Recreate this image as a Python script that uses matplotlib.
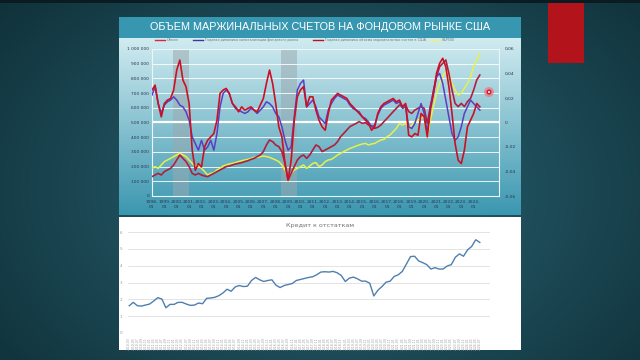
import numpy as np
import matplotlib
matplotlib.use('Agg')
import matplotlib.pyplot as plt
from matplotlib.patches import Rectangle, Circle

W, H = 640, 360

# ---------------- data: top chart (quarterly from 1998) ----------------
years = 1998 + np.arange(107) * 0.25

margin_level = np.array([
    132, 143, 154, 143, 166, 177, 188, 211, 245, 279, 256, 234, 200, 154, 143, 154,
    143, 136, 132, 143, 154, 166, 177, 188, 200, 204, 211, 218, 222, 227, 234, 240,
    249, 256, 268, 279, 302, 347, 381, 370, 347, 336, 302, 222, 109, 154, 200, 245,
    268, 279, 256, 279, 313, 347, 336, 302, 313, 324, 336, 347, 370, 404, 426, 449,
    472, 483, 494, 506, 494, 499, 483, 476, 460, 467, 483, 506, 528, 551, 574, 596,
    619, 608, 619, 574, 562, 585, 596, 608, 596, 494, 608, 698, 812, 880, 902, 925,
    834, 721, 630, 608, 630, 608, 642, 664, 721, 789, 823]) * 1000

cap_yoy = np.array([
    0.0224, 0.0292, 0.0155, 0.0074, 0.0142, 0.0169, 0.0183, 0.0210, 0.0183, 0.0142,
    0.0128, 0.0087, 0.0019, -0.0117, -0.0172, -0.0226, -0.0145, -0.0226, -0.0199, -0.0145,
    -0.0226, -0.0090, 0.0128, 0.0237, 0.0265, 0.0237, 0.0155, 0.0115, 0.0101, 0.0087,
    0.0074, 0.0087, 0.0115, 0.0101, 0.0074, 0.0101, 0.0128, 0.0169, 0.0155, 0.0128,
    0.0074, 0.0046, -0.0035, -0.0145, -0.0226, -0.0199, 0.0046, 0.0265, 0.0319, 0.0346,
    0.0128, 0.0155, 0.0183, 0.0128, 0.0046, 0.0019, -0.0008, 0.0101, 0.0155, 0.0196,
    0.0224, 0.0210, 0.0196, 0.0183, 0.0142, 0.0115, 0.0101, 0.0087, 0.0046, 0.0033,
    0.0005, -0.0035, -0.0022, 0.0060, 0.0115, 0.0142, 0.0155, 0.0169, 0.0183, 0.0155,
    0.0169, 0.0115, 0.0128, -0.0035, -0.0049, -0.0008, 0.0074, 0.0155, 0.0074, -0.0090,
    0.0128, 0.0265, 0.0374, 0.0401, 0.0319, 0.0183, 0.0046, -0.0090, -0.0145, -0.0117,
    -0.0035, 0.0074, 0.0128, 0.0183, 0.0155, 0.0128, 0.0101])

margin_yoy = np.array([
    0.0265, 0.0305, 0.0155, 0.0046, 0.0155, 0.0183, 0.0196, 0.0265, 0.0428, 0.0510,
    0.0346, 0.0292, 0.0155, -0.0226, -0.0390, -0.0335, -0.0363, -0.0199, -0.0145, -0.0117,
    -0.0090, 0.0019, 0.0237, 0.0265, 0.0278, 0.0237, 0.0155, 0.0128, 0.0087, 0.0128,
    0.0101, 0.0115, 0.0128, 0.0101, 0.0087, 0.0142, 0.0196, 0.0319, 0.0428, 0.0319,
    0.0155, -0.0035, -0.0117, -0.0335, -0.0472, -0.0308, 0.0019, 0.0210, 0.0265, 0.0292,
    0.0128, 0.0210, 0.0210, 0.0101, 0.0019, -0.0035, -0.0063, 0.0074, 0.0183, 0.0210,
    0.0237, 0.0224, 0.0210, 0.0196, 0.0155, 0.0128, 0.0101, 0.0074, 0.0046, 0.0019,
    -0.0008, -0.0063, -0.0035, 0.0074, 0.0128, 0.0155, 0.0169, 0.0183, 0.0196, 0.0169,
    0.0183, 0.0128, 0.0155, -0.0104, -0.0117, -0.0090, -0.0104, 0.0074, 0.0046, -0.0117,
    0.0101, 0.0237, 0.0401, 0.0483, 0.0524, 0.0455, 0.0292, 0.0074, -0.0172, -0.0308,
    -0.0335, -0.0226, -0.0035, 0.0019, 0.0074, 0.0155, 0.0128])

index_line = np.array([
    188, 200, 188, 211, 234, 245, 256, 268, 279, 290, 279, 268, 245, 222, 200, 211,
    188, 166, 143, 154, 159, 177, 188, 204, 211, 218, 222, 227, 234, 240, 245, 249,
    256, 263, 263, 268, 272, 268, 263, 254, 245, 234, 211, 177, 132, 154, 177, 188,
    200, 211, 188, 204, 222, 227, 200, 211, 234, 245, 249, 263, 279, 290, 302, 313,
    324, 331, 340, 347, 354, 358, 347, 354, 358, 370, 381, 385, 404, 415, 438, 460,
    494, 483, 494, 467, 483, 506, 517, 528, 540, 404, 517, 608, 698, 766, 812, 846,
    834, 766, 721, 687, 698, 732, 766, 812, 880, 925, 971]) * 1000

recessions = [(1999.7, 2001.0), (2008.42, 2009.71)]
xtick_years = list(range(1998, 2025))
legend_labels = ["Объем",
                 "Годовая динамика капитализации фондового рынка",
                 "Годовая динамика объема маржинальных счетов в США",
                 "S&P500"]
title_top = "ОБЪЕМ МАРЖИНАЛЬНЫХ СЧЕТОВ НА ФОНДОВОМ РЫНКЕ США"

# ---------------- data: bottom chart (every 2 months from 2010-03) ----------------
credit_ratio = np.array([
    1.62, 1.82, 1.62, 1.60, 1.66, 1.72, 1.90, 2.10, 2.02, 1.50, 1.70, 1.70, 1.82, 1.82,
    1.72, 1.64, 1.66, 1.78, 1.74, 2.06, 2.08, 2.12, 2.22, 2.38, 2.60, 2.48, 2.74, 2.82,
    2.76, 2.78, 3.12, 3.30, 3.16, 3.06, 3.12, 3.16, 2.84, 2.70, 2.82, 2.88, 2.94, 3.12,
    3.18, 3.24, 3.30, 3.34, 3.46, 3.62, 3.64, 3.62, 3.66, 3.58, 3.42, 3.06, 3.26, 3.32,
    3.22, 3.08, 3.08, 2.96, 2.20, 2.54, 2.76, 3.02, 3.08, 3.36, 3.46, 3.66, 4.10, 4.54,
    4.56, 4.28, 4.18, 4.06, 3.80, 3.88, 3.80, 3.80, 3.98, 4.06, 4.50, 4.70, 4.56, 4.94,
    5.14, 5.54, 5.38])
n_b = len(credit_ratio)
bottom_dates = [f"{2010 + (2 + 2 * i) // 12}-{(2 + 2 * i) % 12 + 1:02d}" for i in range(n_b)]
title_bottom = "Кредит к отстаткам"


def box(x0, y0, x1, y1):
    return [x0 / W, 1 - y1 / H, (x1 - x0) / W, (y1 - y0) / H]


fig = plt.figure(figsize=(6.4, 3.6), dpi=100)

# ---------------- slide background ----------------
bg = fig.add_axes([0, 0, 1, 1], zorder=0)
yy, xx = np.mgrid[0:H, 0:W]
r = np.sqrt(((xx - 330) / 420) ** 2 + ((yy - 190) / 300) ** 2)
r = np.clip(r, 0, 1)
c_in = np.array([0x2b, 0x67, 0x76]) / 255
c_out = np.array([0x10, 0x32, 0x3b]) / 255
img = c_in[None, None, :] * (1 - r[..., None]) + c_out[None, None, :] * r[..., None]
bg.imshow(img, extent=[0, W, H, 0], aspect='auto')
bg.set_xlim(0, W)
bg.set_ylim(H, 0)
bg.axis('off')
bg.add_patch(Rectangle((0, 0), W, 3, color='#0a1c22', lw=0))
bg.add_patch(Rectangle((548, 3), 36, 60, color='#b3141b', lw=0))

# top panel gradient
g = np.linspace(0, 1, 200)[:, None]
top_c = np.array([0xd2, 0xec, 0xf1]) / 255
bot_c = np.array([0x3b, 0x97, 0xb0]) / 255
grad = top_c[None, None, :] * (1 - g[..., None]) + bot_c[None, None, :] * g[..., None]
grad = np.repeat(grad, 2, axis=1)
bg.imshow(grad, extent=[119, 521, 215, 37], aspect='auto', zorder=1)
bg.add_patch(Rectangle((119, 17), 402, 21, color='#3897b0', lw=0, zorder=1))
bg.text(320, 27.5, title_top, color='white', fontsize=7.8, family='Liberation Sans',
        ha='center', va='center', zorder=2)

# legend
leg_items = [(155, '#d8283c'), (193, '#3a3a9a'), (313, '#c01020'), (430, '#eef07a')]
for (lx, lc), lab in zip(leg_items, legend_labels):
    bg.plot([lx, lx + 10], [40, 40], color=lc, lw=1.0, zorder=2)
    bg.text(lx + 12, 40, lab, fontsize=2.4, color='#6a7a80', va='center', zorder=2)

# bottom panel
bg.add_patch(Rectangle((119, 217), 402, 133, color='white', lw=0, zorder=1))
bg.text(320, 225, title_bottom, fontsize=4.6, color='#707070', ha='center', va='center', zorder=2)

# ---------------- top chart ----------------
ax = fig.add_axes(box(152, 49, 499, 196), zorder=2)
ax.patch.set_alpha(0)
ax.set_xlim(1998, 2026.05)
ax.set_ylim(0, 1_000_000)
for s in recessions:
    ax.axvspan(s[0], s[1], color='#9aa9b0', alpha=0.55, lw=0, zorder=0)
for v in range(100_000, 1_000_000, 100_000):
    ax.axhline(v, color='white', lw=1.6 if v == 500_000 else 0.6, zorder=1)
for sp in ax.spines.values():
    sp.set_color('#eaf6f9')
    sp.set_linewidth(0.8)
ax.set_yticks(range(0, 1_000_001, 100_000))
ax.set_yticklabels([f"{v:,}".replace(',', ' ') for v in range(0, 1_000_001, 100_000)])
ax.set_xticks(xtick_years)
ax.set_xticklabels([f"{y}-\n01" for y in xtick_years])
ax.tick_params(axis='both', length=0, labelsize=3.2, labelcolor='#2b3550', pad=2)
ax.tick_params(axis='x', pad=3)
ax.plot(years, index_line, color='#e4f24a', lw=1.1, zorder=3)
ax.plot(years, margin_level, color='#b0203e', lw=1.2, zorder=4)

ax2 = ax.twinx()
ax2.set_ylim(-0.06, 0.06)
ax2.set_yticks([0.06, 0.04, 0.02, 0, -0.02, -0.04, -0.06])
ax2.set_yticklabels(['0,06', '0,04', '0,02', '0', '-0,02', '-0,04', '-0,06'])
ax2.tick_params(axis='y', length=0, labelsize=3.2, labelcolor='#2b3550', pad=4)
for sp in ax2.spines.values():
    sp.set_visible(False)
ax2.plot(years, cap_yoy, color='#5a3ec4', lw=1.1, zorder=3)
ax2.plot(years, margin_yoy, color='#cc1024', lw=1.2, zorder=4)

# cursor highlight
ov = fig.add_axes([0, 0, 1, 1], zorder=5)
ov.set_xlim(0, W)
ov.set_ylim(H, 0)
ov.axis('off')
ov.patch.set_alpha(0)
ov.add_patch(Circle((489, 92), 5, color='#f26a78', alpha=0.6, lw=0))
ov.add_patch(Circle((489, 92), 2.6, color='#e01a2a', lw=0))
ov.add_patch(Circle((489, 92), 1.0, color='white', lw=0))

# ---------------- bottom chart ----------------
bx = fig.add_axes(box(128, 232, 490, 333), zorder=3)
bx.patch.set_alpha(0)
xb = np.arange(n_b)
bx.plot(xb, credit_ratio, color='#4f7fae', lw=1.0)
bx.set_ylim(0, 6)
bx.set_xlim(-0.3, n_b + 1.5)
bx.set_yticks(range(0, 7))
bx.grid(axis='y', color='#dedede', lw=0.6)
bx.set_axisbelow(True)
for sp in bx.spines.values():
    sp.set_visible(False)
bx.set_xticks(xb)
bx.set_xticklabels(bottom_dates, rotation=90)
bx.tick_params(axis='both', length=0, labelsize=2.2, labelcolor='#9a9a9a', pad=3)
bx.tick_params(axis='y', labelsize=3.0, pad=4)

fig.savefig('out.png', dpi=100)
